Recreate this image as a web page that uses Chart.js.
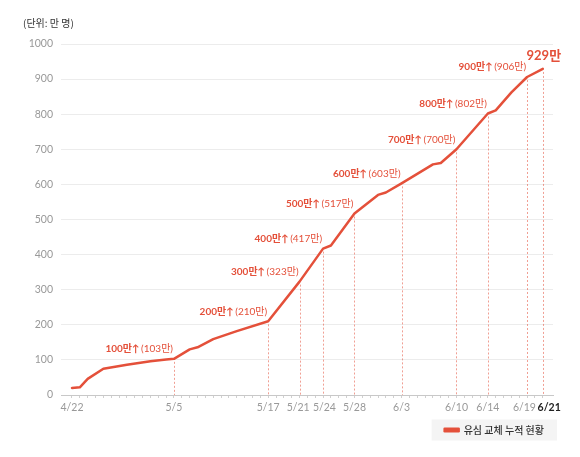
<!DOCTYPE html>
<html><head><meta charset="utf-8">
<script src="https://cdn.jsdelivr.net/npm/chart.js@4.4.1/dist/chart.umd.min.js"></script>
<style>html,body{margin:0;padding:0;background:#fff;}canvas{display:block;}</style>
</head><body>
<canvas id="c" width="580" height="457"></canvas>
<script>
// day index: 0 = 4/22
const days   = [0, 1, 2, 4, 7, 10, 12, 13, 15, 16, 18, 21, 25, 29, 32, 33, 36, 39, 40, 42, 46, 47, 49, 53, 54, 56, 58, 60];
const values = [20, 22, 46, 75, 86, 96, 101, 103, 130, 136, 159, 182, 210, 323, 417, 426, 517, 570, 577, 603, 657, 661, 700, 802, 811, 862, 906, 929];
const tickDays   = [0, 13, 25, 29, 32, 36, 42, 49, 53, 58, 60];
const tickLabels = ['4/22', '5/5', '5/17', '5/21 ', ' 5/24', '5/28', '6/3', '6/10', '6/14', '6/19  ', '     6/21'];
const milestoneDays  = [13, 25, 29, 32, 36, 42, 49, 53, 58];
const milestoneNames = ['100만↑', '200만↑', '300만↑', '400만↑', '500만↑', '600만↑', '700만↑', '800만↑', '900만↑'];
const seriesName = '유심 교체 누적 현황';
const unitLabel = '(단위: 만 명)';
const allDays = Array.from({length: 61}, (_, i) => i);

const RED = '#e4503a';
const FONT = "Lato, 'Noto Sans CJK KR', sans-serif";
const KFONT = "'Noto Sans CJK KR', Lato, sans-serif";

const annot = {
  id: 'annot',
  beforeDraw(chart) {
    const ctx = chart.ctx, lg = chart.legend;
    if (lg && lg.legendHitBoxes && lg.legendHitBoxes.length) {
      const hb = lg.legendHitBoxes[0];
      const cy = hb.top + hb.height / 2;
      ctx.save();
      ctx.fillStyle = '#f4f4f4';
      ctx.fillRect(hb.left - 13, cy - 10.5, hb.width + 26, 21);
      ctx.restore();
    }
  },
  afterDatasetsDraw(chart) {
    const ctx = chart.ctx, xs = chart.scales.x, ys = chart.scales.y;
    const y0 = ys.getPixelForValue(0);
    ctx.save();
    const dropDays = milestoneDays.concat([days[days.length - 1]]);
    ctx.strokeStyle = 'rgba(228,80,58,0.55)';
    ctx.lineWidth = 1;
    ctx.setLineDash([2, 2]);
    dropDays.forEach(d => {
      const v = values[days.indexOf(d)];
      const px = Math.round(xs.getPixelForValue(d)) + 0.5;
      ctx.beginPath();
      ctx.moveTo(px, ys.getPixelForValue(v) + 3);
      ctx.lineTo(px, y0);
      ctx.stroke();
    });
    ctx.setLineDash([]);
    ctx.textBaseline = 'middle';
    ctx.textAlign = 'right';
    milestoneDays.forEach((d, i) => {
      const v = values[days.indexOf(d)];
      const px = xs.getPixelForValue(d) - 1;
      const py = ys.getPixelForValue(v) - 10;
      const reg = '(' + v + '만)';
      ctx.font = '10px ' + FONT;
      ctx.fillStyle = RED;
      ctx.fillText(reg, px, py);
      const w = ctx.measureText(reg).width;
      ctx.font = 'bold 10px ' + FONT;
      ctx.fillText(milestoneNames[i], px - w - 1.5, py);
    });
    const lastD = days[days.length - 1], lastV = values[values.length - 1];
    ctx.textAlign = 'center';
    ctx.font = 'bold 13px ' + FONT;
    ctx.fillText(lastV + '만', xs.getPixelForValue(lastD) + 1, ys.getPixelForValue(lastV) - 13);
    ctx.textAlign = 'left';
    ctx.fillStyle = '#333';
    ctx.font = '10px ' + KFONT;
    ctx.fillText(unitLabel, 23, chart.chartArea.top - 21);
    ctx.restore();
  }
};

new Chart(document.getElementById('c'), {
  type: 'line',
  data: {
    datasets: [{
      label: seriesName,
      data: days.map((d, i) => ({x: d, y: values[i]})),
      borderColor: RED,
      backgroundColor: RED,
      borderWidth: 2.5,
      pointRadius: 0,
      tension: 0,
      borderJoinStyle: 'round',
      borderCapStyle: 'round'
    }]
  },
  options: {
    responsive: false,
    animation: false,
    layout: {padding: {left: 0, right: 27, top: 44, bottom: 12}},
    plugins: {
      tooltip: {enabled: false},
      legend: {
        position: 'bottom',
        align: 'end',
        labels: {
          boxWidth: 14,
          boxHeight: 2.5,
          padding: 9,
          color: '#333',
          font: {size: 10, family: KFONT, weight: '500'}
        }
      }
    },
    scales: {
      x: {
        type: 'linear',
        min: -1.4,
        max: 61.3,
        afterBuildTicks(scale) { scale.ticks = allDays.map(v => ({value: v})); },
        afterFit(scale) { scale.height = 21; },
        border: {display: true, color: '#c8c8c8', width: 1},
        grid: {display: true, drawOnChartArea: false, drawTicks: true, tickLength: 3, color: '#d0d0d0'},
        ticks: {
          autoSkip: false,
          maxRotation: 0,
          padding: 3,
          callback(v) { const k = tickDays.indexOf(v); return k >= 0 ? tickLabels[k] : ''; },
          color(ctx) { return ctx.tick && ctx.tick.value === 60 ? '#222' : '#999'; },
          font(ctx) { return ctx.tick && ctx.tick.value === 60 ? {size: 10.5, weight: 'bold', family: FONT} : {size: 10.5, family: FONT}; }
        }
      },
      y: {
        min: 0,
        max: 1000,
        afterFit(scale) { scale.width = 61; },
        border: {display: false},
        grid: {color: '#ececec', drawTicks: false},
        ticks: {stepSize: 100, padding: 8, color: '#999', font: {size: 10.5, family: FONT}, callback: v => String(v)}
      }
    }
  },
  plugins: [annot]
});
</script>
</body></html>
